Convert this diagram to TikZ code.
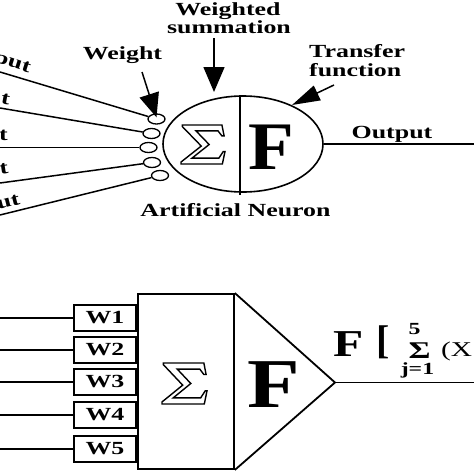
\documentclass[tikz,border=0pt]{standalone}
\usepackage{fontspec}
\setmainfont{Liberation Serif}
\newfontfamily\lbl{Liberation Serif}[FakeStretch=1.4]
\usetikzlibrary{shapes.geometric,arrows.meta}
\newcommand\mysigmapath{%
  \draw[sig] (0.03,0) -- (0.93,0) -- (0.98,0.28) -- (0.93,0.28) -- (0.84,0.15) -- (0.34,0.15)
      -- (0.64,0.50) -- (0.25,0.85) -- (0.86,0.85) -- (0.96,0.68) -- (1.0,0.68) -- (0.94,1.0)
      -- (0,1.0) -- (0,0.95) -- (0.46,0.54) -- (0.03,0.04) -- cycle;}
\begin{document}
\begin{tikzpicture}[x=1pt,y=-1pt,
  txt/.style={font=\lbl\bfseries\fontsize{18.5}{19}\selectfont, inner sep=0pt},
  wire/.style={line width=1.5pt},
  wbox/.style={draw, line width=1.8pt, minimum width=62pt, minimum height=26pt, inner sep=0pt, txt},
  wdot/.style={draw, ellipse, line width=1.3pt, minimum width=17pt, minimum height=10pt, inner sep=0pt, fill=white},
  pointer/.style={line width=1.5pt, -{Triangle[length=24pt,width=20pt]}},
  sig/.style={draw, line width=1.4pt, fill=white, line join=miter},
]
\useasboundingbox (0,0) rectangle (474,474);
\clip (0,0) rectangle (474,474);

% ---------- top: artificial neuron ----------
\node[ellipse, draw, line width=1.6pt, minimum width=160pt, minimum height=96pt, inner sep=0pt] (neuron) at (243,144) {};
\draw[wire] ([xshift=-3pt]neuron.north) -- ([xshift=-3pt,yshift=-2pt]neuron.south);
\begin{scope}[shift={(181,125)}, xscale=44, yscale=39]
  \mysigmapath
\end{scope}
\node[inner sep=0pt, font=\bfseries\fontsize{68}{68}\selectfont] (ftop) at (271.5,147.5) {\scalebox{1.1}[1]{F}};

\node[wdot] (w1) at (156.5,119) {};
\node[wdot] (w2) at (151.5,133.5) {};
\node[wdot] (w3) at (148.5,147.5) {};
\node[wdot] (w4) at (152,162.5) {};
\node[wdot] (w5) at (160,175.5) {};

\coordinate (i1) at (0,72);
\coordinate (i2) at (0,108);
\coordinate (i3) at (0,147.5);
\coordinate (i4) at (0,183);
\coordinate (i5) at (0,215);
\foreach \k in {1,...,5} { \draw[wire] (i\k) -- (w\k); }

\node[txt, anchor=base east, rotate=-17.6] (l1) at (29,73) {Input};
\node[txt, anchor=base east, rotate=-10.4] (l2) at (9,105) {Input};
\node[txt, anchor=base east] (l3) at (8,140) {Input};
\node[txt, anchor=base east, rotate=8.5] (l4) at (9,173) {Input};
\node[txt, anchor=base east, rotate=14.5] (l5) at (21,204) {Input};

\coordinate (outend) at (474,144);
\draw[wire] (neuron.east) -- (outend);
\node[txt, anchor=base] (outlab) at (392,138) {Output};

\node[txt, anchor=base] (wlab) at (122.5,59) {Weight};
\coordinate (wtail) at (142,72);
\draw[pointer] (wtail) -- ([yshift=-4pt]w1.north);

\node[txt, anchor=base] (ws1) at (228,15) {Weighted};
\node[txt, anchor=base] (ws2) at (229,33) {summation};
\coordinate (stail) at (214,38);
\coordinate (stip) at (214,92);
\draw[line width=1.5pt, -{Triangle[length=25pt,width=21pt]}] (stail) -- (stip);

\node[txt, anchor=base west] (tf1) at (309,57) {Transfer};
\node[txt, anchor=base west] (tf2) at (309,76) {function};
\coordinate (ttail) at (334,85);
\coordinate (ttip) at (292,105);
\draw[line width=1.5pt, -{Triangle[length=28pt,width=16pt]}] (ttail) -- (ttip);

\node[txt, anchor=base] (anlab) at (235.5,216) {Artificial Neuron};

% ---------- bottom: block diagram ----------
\node[draw, line width=1.8pt, minimum width=96pt, minimum height=175pt, inner sep=0pt] (sbox) at (186,381.5) {};
\coordinate (apex) at (335,382.5);
\draw[line width=1.8pt, line join=miter] (sbox.north east) -- (apex) -- (sbox.south east);
\coordinate (out2) at (474,382.5);
\draw[wire] (apex) -- (out2);

\foreach \i/\y in {1/318,2/350,3/382,4/415,5/449} {
  \node[wbox] (W\i) at (105,\y) {W\i};
  \coordinate (in\i) at (0,\y);
  \draw[wire] (in\i) -- (W\i);
  \draw[line width=4pt] (W\i.north east) -- (W\i.south east);
}

\begin{scope}[shift={(162,363)}, xscale=45, yscale=41]
  \mysigmapath
\end{scope}
\node[inner sep=0pt, font=\bfseries\fontsize{70}{70}\selectfont] (fbot) at (274,385) {\scalebox{1.23}[1]{F}};

\node[inner sep=0pt, font=\bfseries\fontsize{38}{38}\selectfont] (fF) at (348.5,344.5) {\scalebox{1.3}[1]{F}};
\node[inner sep=0pt, font=\bfseries\fontsize{40}{40}\selectfont] (fbr) at (383,342) {[};
\node[inner sep=0pt, font=\lbl\bfseries\fontsize{24}{24}\selectfont] (fS) at (419.5,350.5) {Σ};
\node[inner sep=0pt, font=\lbl\bfseries\fontsize{17}{17}\selectfont] (f5) at (414.5,329) {5};
\node[inner sep=0pt, font=\lbl\bfseries\fontsize{17}{17}\selectfont] (fj) at (417.5,370.5) {j=1};
\node[inner sep=0pt, anchor=west, font=\lbl\fontsize{21}{21}\selectfont] (fX) at (441,351) {(X};
\end{tikzpicture}
\end{document}
